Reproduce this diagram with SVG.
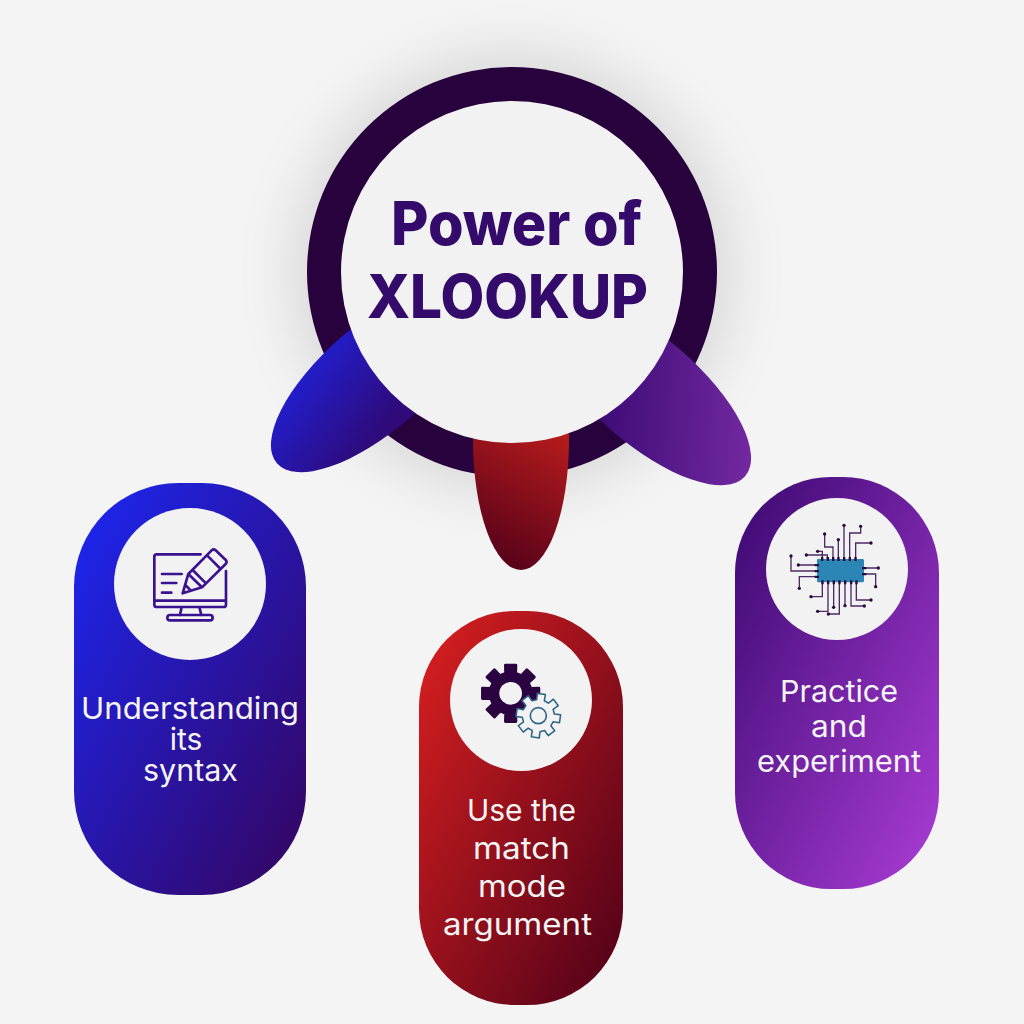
<svg xmlns="http://www.w3.org/2000/svg" xmlns:xlink="http://www.w3.org/1999/xlink" width="1024" height="1024" viewBox="0 0 1024 1024">
<style>
.lab{font-family:"Inter","Liberation Sans",sans-serif;font-size:30px;fill:#f4f4f4;text-anchor:middle;font-weight:400}
.ttl{font-family:"Inter","Liberation Sans",sans-serif;font-weight:800;font-size:60px;fill:#340a6b;text-anchor:middle}
.ln{fill:none;stroke:#3a1290;stroke-width:8;stroke-linecap:round;stroke-linejoin:round}
.wire{fill:none;stroke:#4d2a63;stroke-width:4}
.dot{fill:#2a0a3c}
.disc{fill:#f2f2f2}
</style>
<defs>
<linearGradient id="gB" x1="0" y1="0" x2="1" y2="1"><stop offset="0" stop-color="#1b27f5"/><stop offset="1" stop-color="#35045c"/></linearGradient>
<linearGradient id="gR" x1="0" y1="0" x2="1" y2="1"><stop offset="0" stop-color="#dc2020"/><stop offset="1" stop-color="#4c0018"/></linearGradient>
<linearGradient id="gP" x1="0" y1="0" x2="1" y2="1"><stop offset="0" stop-color="#3a0870"/><stop offset="1" stop-color="#ab3dd6"/></linearGradient>
<linearGradient id="pB" gradientUnits="userSpaceOnUse" x1="272" y1="430" x2="420" y2="400"><stop offset="0" stop-color="#1b27f5"/><stop offset="1" stop-color="#2f0a78"/></linearGradient>
<linearGradient id="pR" gradientUnits="userSpaceOnUse" x1="570" y1="435" x2="490" y2="570"><stop offset="0" stop-color="#b81c1c"/><stop offset="1" stop-color="#50001a"/></linearGradient>
<linearGradient id="pP" gradientUnits="userSpaceOnUse" x1="630" y1="350" x2="740" y2="490"><stop offset="0" stop-color="#3f0c78"/><stop offset="1" stop-color="#7c2ea8"/></linearGradient>
<filter id="soft" x="-40%" y="-40%" width="180%" height="180%"><feGaussianBlur stdDeviation="30"/></filter>
<path id="gear" d="M69.9-17.4L98.3-18.2L98.3 18.2L69.9 17.4L61.7 37.1L82.4 56.6L56.6 82.4L37.1 61.7L17.4 69.9L18.2 98.3L-18.2 98.3L-17.4 69.9L-37.1 61.7L-56.6 82.4L-82.4 56.6L-61.7 37.1L-69.9 17.4L-98.3 18.2L-98.3-18.2L-69.9-17.4L-61.7-37.1L-82.4-56.6L-56.6-82.4L-37.1-61.7L-17.4-69.9L-18.2-98.3L18.2-98.3L17.4-69.9L37.1-61.7L56.6-82.4L82.4-56.6L61.7-37.1Z"/>
</defs>
<rect width="1024" height="1024" fill="#f4f4f4"/>
<g id="connectors"></g>
<g id="hub">
<circle cx="512" cy="272" r="220" fill="#000" opacity="0.11" filter="url(#soft)"/>
<circle cx="512" cy="272" r="205" fill="#28023c"/>
<ellipse cx="375" cy="378" rx="53" ry="130" transform="rotate(49 375 378)" fill="url(#pB)"/>
<ellipse cx="647" cy="391" rx="53" ry="130" transform="rotate(-49 647 391)" fill="url(#pP)"/>
<ellipse cx="521" cy="440" rx="48" ry="130" fill="url(#pR)"/>
<circle cx="512" cy="272" r="171" fill="#f2f2f2"/>
<text class="ttl" x="516.500" y="245" textLength="251" lengthAdjust="spacingAndGlyphs">Power of</text>
<text class="ttl" x="507.500" y="318" textLength="281" lengthAdjust="spacingAndGlyphs">XLOOKUP</text>
</g>
<g id="card-syntax">
<rect x="74" y="483" width="232" height="412" rx="104" fill="url(#gB)"/>
<circle class="disc" cx="190" cy="584" r="76"/>
<g transform="translate(110 505) scale(.3333)" class="ln">
<path d="M272 148H140Q133 148 133 155V299Q133 306 140 306H341Q348 306 348 299V198M133 287H348M215 306L210 330M268 306L274 330"/>
<rect x="172" y="330" width="136" height="16" rx="8"/>
<path d="M156 207H215M156 234H199M156 263H184"/>
<path d="M218 265L235 207L305 136Q311 131 317 136L348 166Q352 172 347 177L276 247ZM235 207L276 247M292 152L332 192M248 195L288 235M226 240L243 257"/>
</g>
<text class="lab" x="190" y="719" textLength="218" lengthAdjust="spacingAndGlyphs">Understanding</text>
<text class="lab" x="186" y="750">its</text>
<text class="lab" x="190.500" y="781" textLength="95" lengthAdjust="spacingAndGlyphs">syntax</text>
</g>
<g id="card-match">
<rect x="419" y="611" width="204" height="394" rx="96" fill="url(#gR)"/>
<circle class="disc" cx="521" cy="700" r="71"/>
<g transform="translate(445 625) scale(.3333)">
<use xlink:href="#gear" transform="translate(197 205) scale(.86)" fill="#2a0340" stroke="#2a0340" stroke-width="10" stroke-linejoin="round"/>
<circle cx="197" cy="205" r="34" fill="#f2f2f2"/>
<use xlink:href="#gear" transform="translate(280 272) rotate(8) scale(.67)" fill="#f2f2f2" stroke="#2f6688" stroke-width="7" stroke-linejoin="round"/>
<circle cx="280" cy="272" r="24" fill="#f2f2f2" stroke="#2f6688" stroke-width="5"/>
</g>
<text class="lab" x="521.500" y="821" textLength="109" lengthAdjust="spacingAndGlyphs">Use the</text>
<text class="lab" x="521.500" y="859" textLength="97" lengthAdjust="spacingAndGlyphs">match</text>
<text class="lab" x="522" y="897" textLength="88" lengthAdjust="spacingAndGlyphs">mode</text>
<text class="lab" x="517.500" y="935" textLength="149" lengthAdjust="spacingAndGlyphs">argument</text>
</g>
<g id="card-practice">
<rect x="735" y="477" width="204" height="412" rx="96" fill="url(#gP)"/>
<circle class="disc" cx="837" cy="569" r="71"/>
<g transform="translate(765 498) scale(.3333)">
<path class="wire" d="M172 183V160H158M187 183V171H124M204 183V147H179V108M220 183V125M237 183V82M254 183V105H287V85M272 183V135H318M155 201H100M155 219H78V174M155 236H103V271M297 210H340M297 228H332V266M172 253V296H138M189 253V340H158M206 253V328M223 253V348H190M240 253V323M258 253V324H298M274 253V306H318"/>
<rect x="156" y="183" width="141" height="70" rx="4" fill="#2b86b5"/>
<g class="dot">
<circle cx="158" cy="160" r="5"/><circle cx="124" cy="171" r="5"/><circle cx="179" cy="108" r="5"/><circle cx="220" cy="125" r="5"/><circle cx="237" cy="82" r="5"/><circle cx="287" cy="85" r="5"/><circle cx="318" cy="135" r="5"/><circle cx="100" cy="201" r="5"/><circle cx="78" cy="174" r="5"/><circle cx="103" cy="271" r="5"/><circle cx="340" cy="210" r="5"/><circle cx="332" cy="266" r="5"/><circle cx="138" cy="296" r="5"/><circle cx="158" cy="340" r="5"/><circle cx="206" cy="328" r="5"/><circle cx="190" cy="348" r="5"/><circle cx="240" cy="323" r="5"/><circle cx="298" cy="324" r="5"/><circle cx="318" cy="306" r="5"/>
<path d="M168 177h7v12h-7zM185 177h7v12h-7zM201 177h7v12h-7zM217 177h7v12h-7zM234 177h7v12h-7zM251 177h7v12h-7zM268 177h7v12h-7zM169 247h7v12h-7zM186 247h7v12h-7zM203 247h7v12h-7zM220 247h7v12h-7zM237 247h7v12h-7zM255 247h7v12h-7zM271 247h7v12h-7zM149 198h13v7h-13zM149 216h13v7h-13zM149 233h13v7h-13zM291 207h13v7h-13zM291 225h13v7h-13z"/>
</g>
</g>
<text class="lab" x="839" y="702" textLength="118" lengthAdjust="spacingAndGlyphs">Practice</text>
<text class="lab" x="839" y="737" textLength="56" lengthAdjust="spacingAndGlyphs">and</text>
<text class="lab" x="839" y="772" textLength="164" lengthAdjust="spacingAndGlyphs">experiment</text>
</g>
</svg>
